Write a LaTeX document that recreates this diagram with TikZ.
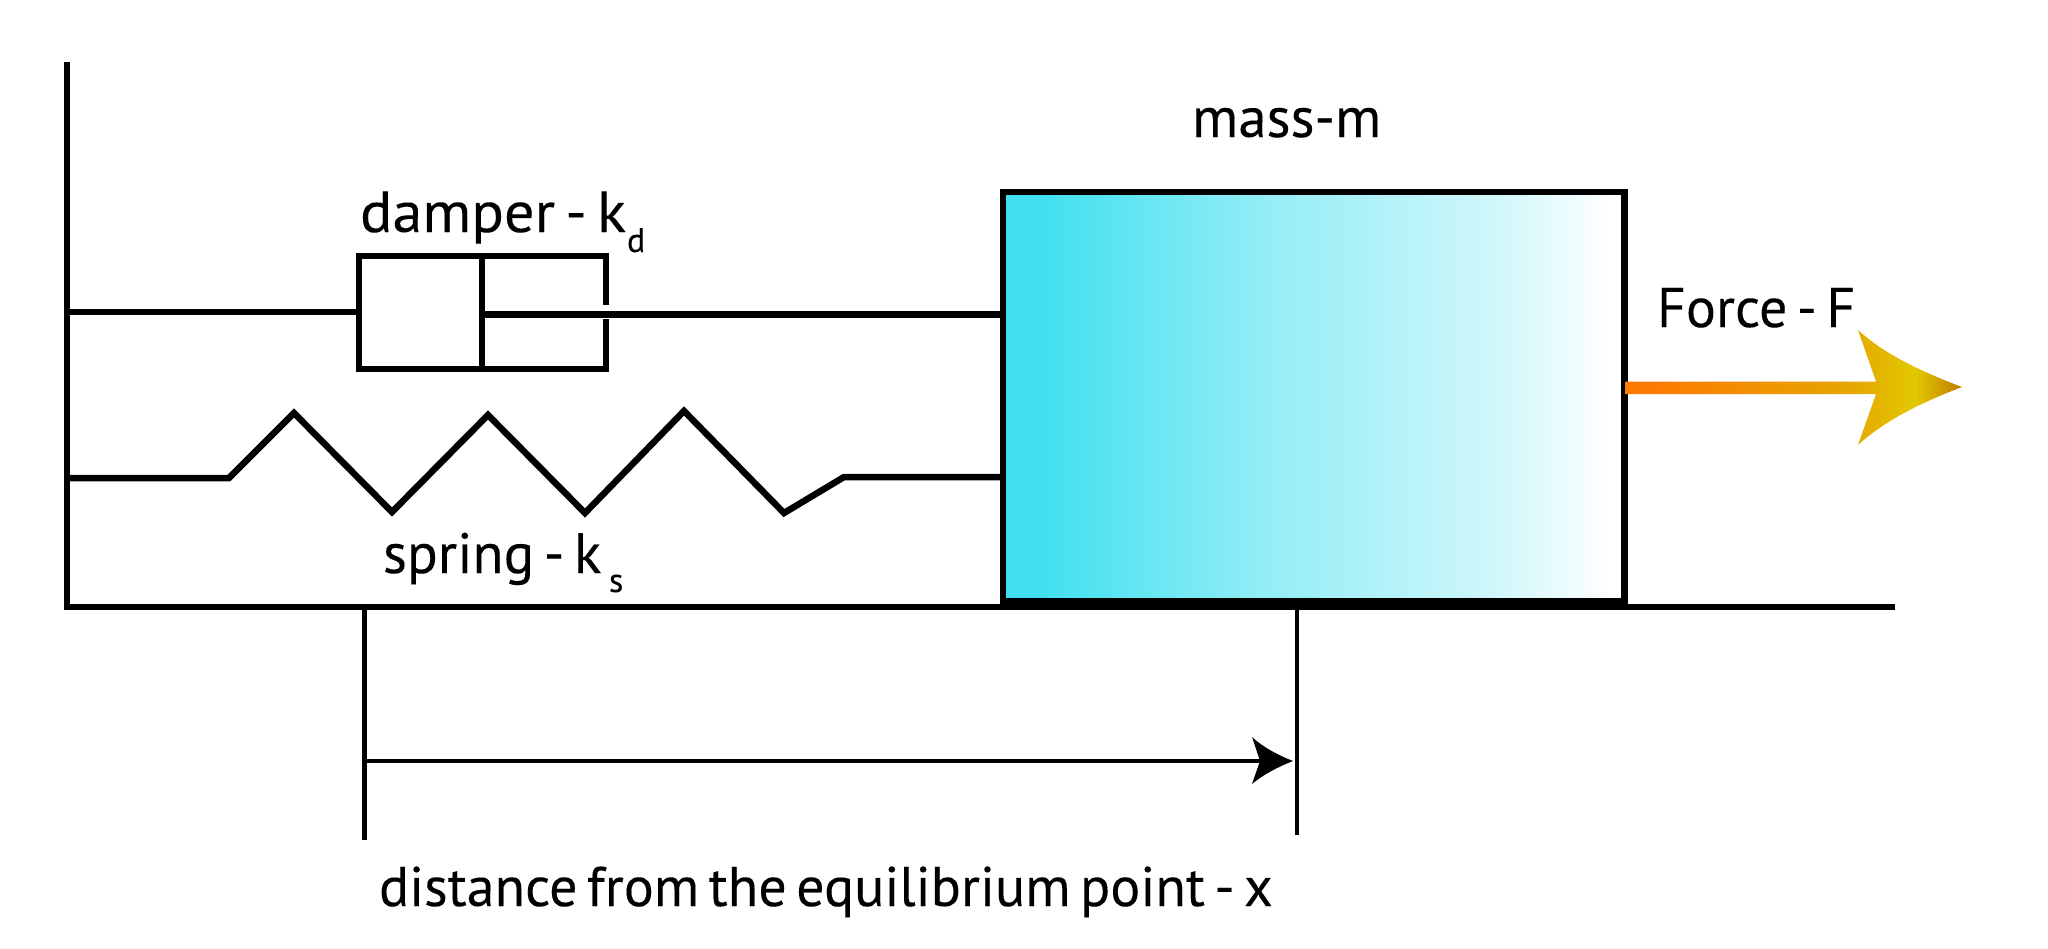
\documentclass[tikz,border=0pt]{standalone}
\usepackage{fontspec}
\setmainfont[WordSpace=0.63,FakeBold=0.12]{PT Sans}
\definecolor{massA}{RGB}{64,224,240}
\definecolor{massB}{RGB}{150,238,246}
\definecolor{massC}{RGB}{205,246,250}
\definecolor{fa}{RGB}{255,122,0}
\definecolor{fb}{RGB}{230,165,0}
\definecolor{fc}{RGB}{226,200,0}
\definecolor{fd}{RGB}{190,125,0}
\pgfdeclarehorizontalshading{massfill}{100bp}{
  color(0bp)=(massA); color(28bp)=(massA); color(47bp)=(massB); color(64bp)=(massC); color(74bp)=(white); color(100bp)=(white)}
\pgfdeclarehorizontalshading{forcefill}{100bp}{
  color(0bp)=(fa); color(29bp)=(fa); color(58bp)=(fb); color(68bp)=(fc); color(75bp)=(fd); color(100bp)=(fd)}
\tikzset{
  thick line/.style={draw=black,line width=6.5pt,line cap=butt,line join=miter},
  thin line/.style={draw=black,line width=4.3pt},
  label text/.style={inner sep=0pt,outer sep=0pt,anchor=base west,font=\fontsize{56}{60}\selectfont},
  sub text/.style={inner sep=0pt,outer sep=0pt,anchor=base west,font=\fontsize{34}{36}\selectfont},
}
\begin{document}
\begin{tikzpicture}[x=1pt,y=-1pt]
\useasboundingbox (0,0) rectangle (2048,948);
% mass
\node[minimum width=621.5pt,minimum height=409pt,inner sep=0pt,outer sep=0pt,
      shading=massfill,draw=black,line width=6.5pt] (mass) at (1313.75,396.5) {};
% named points
\coordinate (wallT) at (67,62);
\coordinate (wallB) at (67,610);
\coordinate (floorL) at (67,607);
\coordinate (floorR) at (1895,607);
\coordinate (rodL) at (67,312);
\coordinate (cylL) at (359,312);
\coordinate (rodR) at (482,314.5);
\coordinate (tickAT) at (364.5,607);
\coordinate (tickAB) at (364.5,840);
\coordinate (tickBT) at (1297,607);
\coordinate (tickBB) at (1297,835);
\coordinate (distL) at (366,761);
\coordinate (distR) at (1264,761);
% wall and floor
\draw[thick line] (wallT) -- (wallB);
\draw[thick line] (floorL) -- (floorR);
% damper
\draw[thick line] (cylL) -- (rodL);
\draw[thick line] (606,305) -- (606,256) -- (359,256) -- (359,369) -- (606,369) -- (606,319);
\draw[thick line] (482,253) -- (482,369);
\draw[thick line] (rodR) -- (rodR -| mass.west);
% spring
\draw[thick line] (67,478) -- (229,478) -- (294,413) -- (392,512) -- (488,415) -- (585,513) -- (684,411) -- (784,513) -- (844,477) -- (1003,477);
% distance
\draw[thin line] (tickAT) -- (tickAB);
\draw[thin line] (tickBT) -- (tickBB);
\draw[thin line] (distL) -- (distR);
\fill[black] (1293,761) .. controls (1278,767) and (1264,774) .. (1252,784)
  -- (1260,761) -- (1252,737) .. controls (1264,748) and (1278,755) .. cycle;
% force arrow
\path[shading=forcefill] (1625,381.5) -- (1876,381.5) -- (1858,330)
  .. controls (1885,355) and (1925,373) .. (1962,387)
  .. controls (1925,401) and (1885,420) .. (1858,445)
  -- (1876,394) -- (1625,394) -- cycle;
% labels
\node[label text,font=\fontsize{57}{60}\selectfont] (lmass) at (1192,137) {mass-m};
\node[label text,font=\fontsize{58}{60}\selectfont,xscale=1.04,transform shape] (ldamp) at (360,232) {damper - k};
\node[sub text] (ldsub) at (627,252) {d};
\node[label text,font=\fontsize{57}{60}\selectfont] (lspring) at (383,573) {spring - k};
\node[sub text] (lssub) at (609,592) {s};
\node[label text] (lforce) at (1657,327) {Force - F};
\node[label text] (ldist) at (379,906) {distance from the equilibrium point - x};
\end{tikzpicture}
\end{document}
